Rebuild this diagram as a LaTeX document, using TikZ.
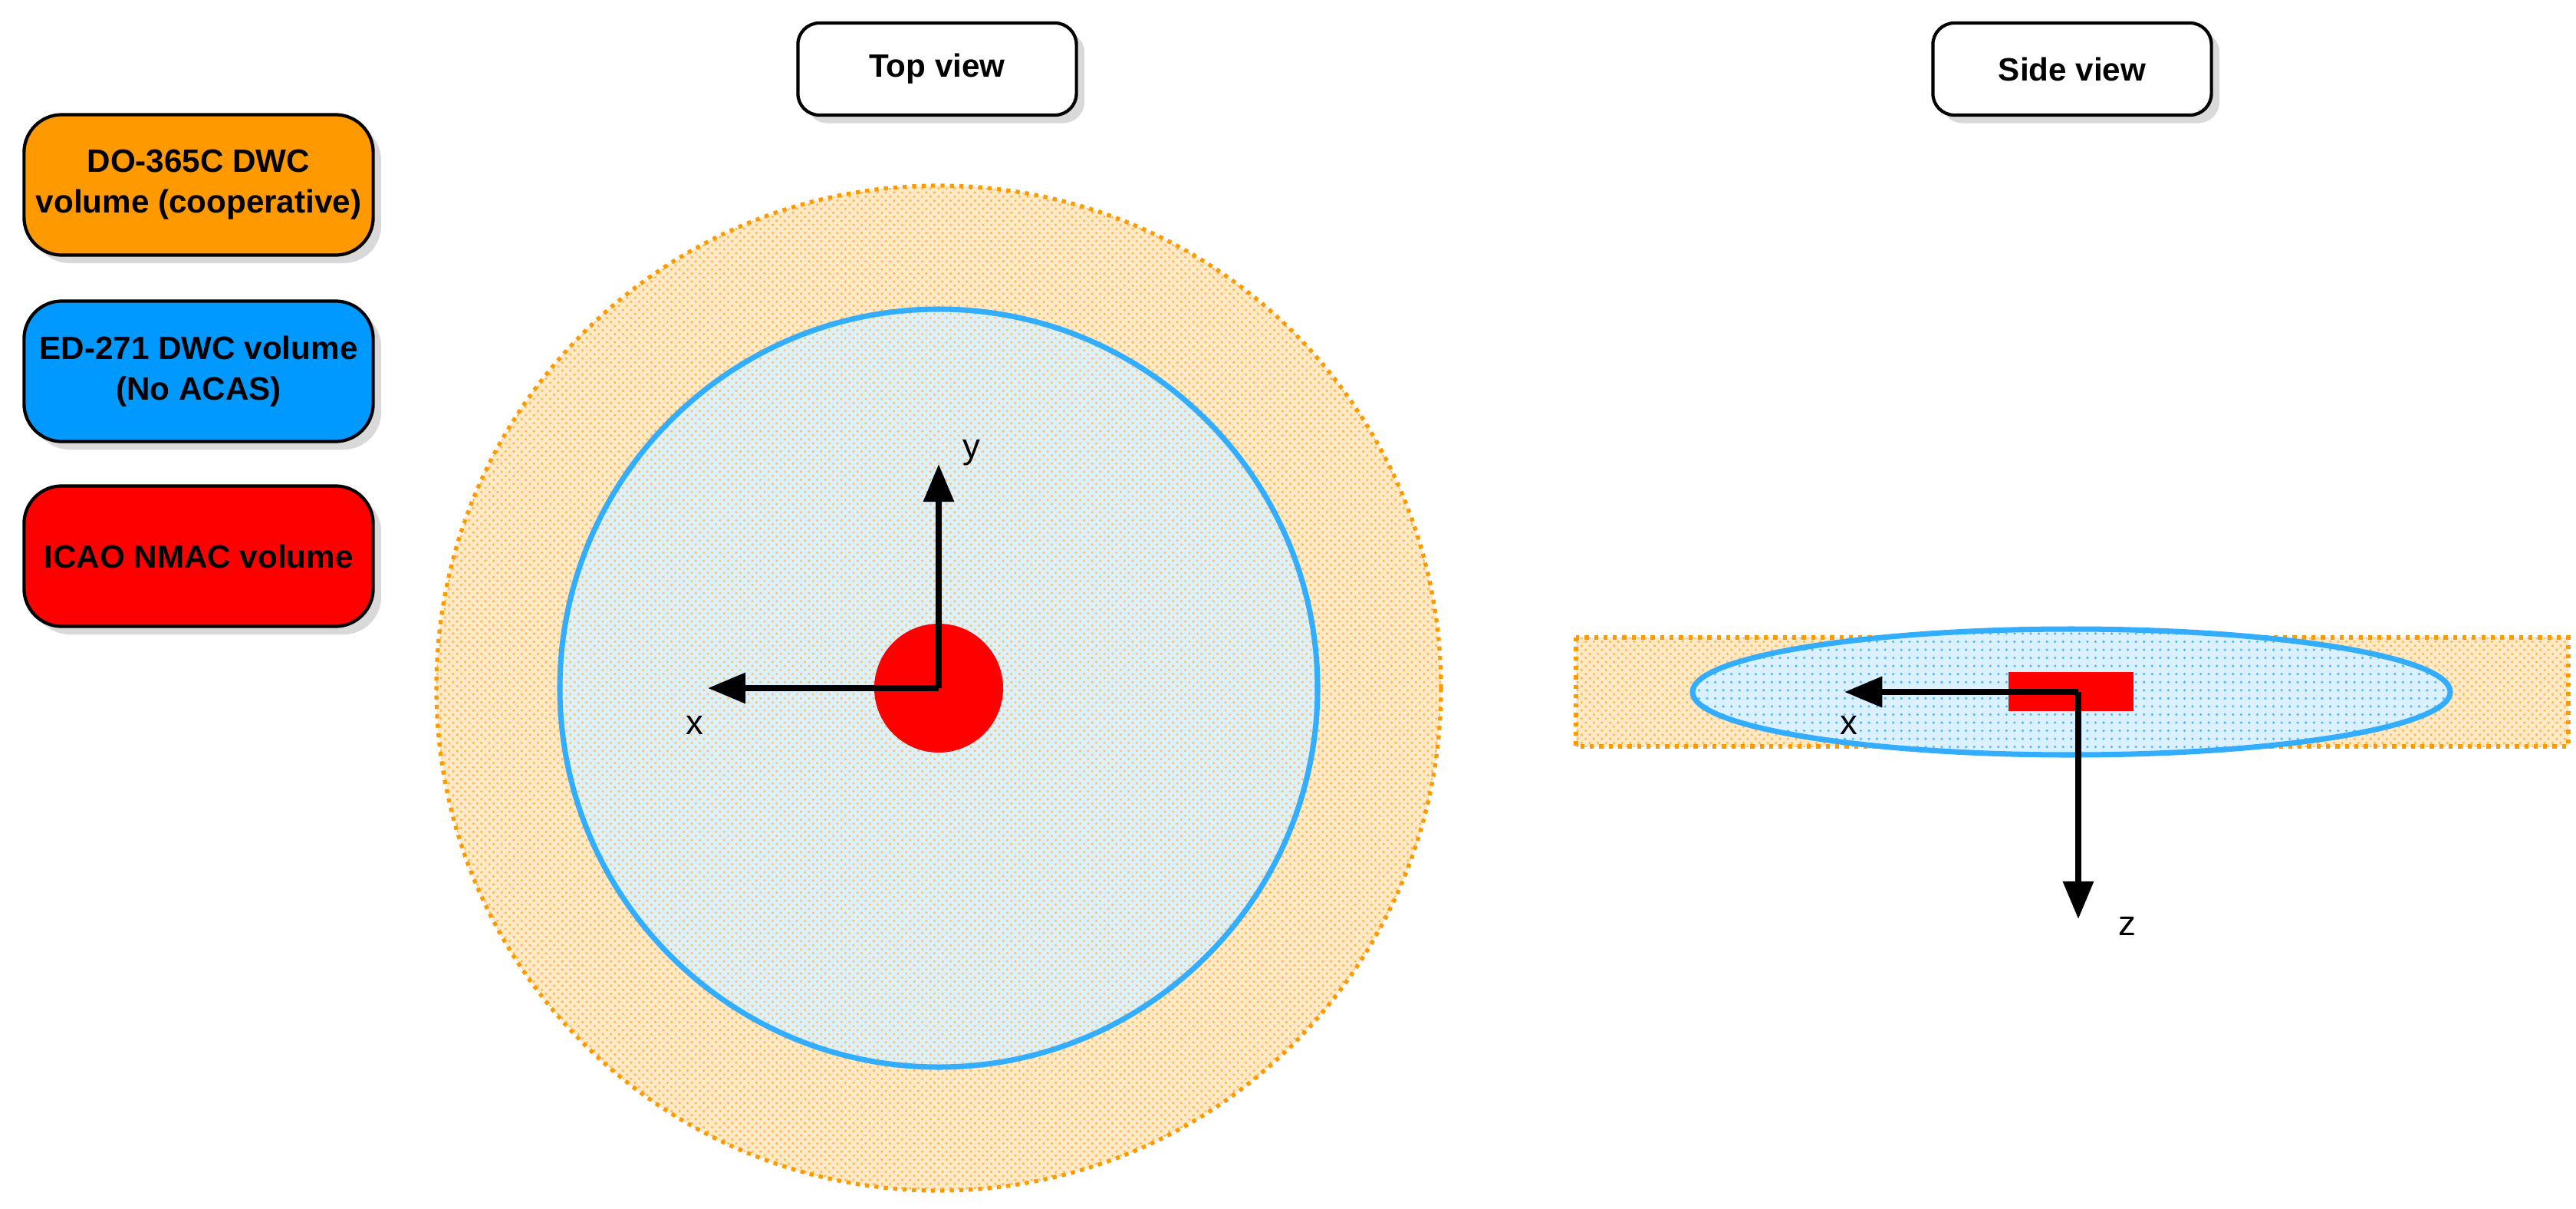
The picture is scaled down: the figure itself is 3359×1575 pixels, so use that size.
\documentclass[tikz,border=0pt]{standalone}
\usepackage{fontspec}
\setmainfont{Liberation Sans}
\usetikzlibrary{shadows,patterns,arrows.meta}
\definecolor{dorange}{HTML}{FF9900}
\definecolor{dblue}{HTML}{0099FF}
\definecolor{dred}{HTML}{FF0000}
\begin{document}
\begin{tikzpicture}[x=0.01cm,y=-0.01cm,
  legbox/.style={draw=black,line width=1.2pt,rounded corners=14pt,minimum width=4.55cm,minimum height=1.83cm,align=center,font=\bfseries\fontsize{12}{15}\selectfont,drop shadow={opacity=0.3,shadow xshift=3pt,shadow yshift=-3pt}},
  viewbox/.style={draw=black,line width=1.2pt,fill=white,rounded corners=8pt,minimum width=3.63cm,minimum height=1.2cm,font=\bfseries\fontsize{12}{15}\selectfont,drop shadow={opacity=0.3,shadow xshift=3pt,shadow yshift=-3pt}},
  axis/.style={line width=2.2pt,-{Triangle[length=14pt,width=11pt]}},
  lab/.style={font=\fontsize{13}{15}\selectfont}]
\useasboundingbox (0,0) rectangle (3359,1575);
\node[legbox,fill=dorange] (l1) at (259,241) {DO-365C DWC\\volume (cooperative)};
\node[legbox,fill=dblue] (l2) at (259,484) {ED-271 DWC volume\\(No ACAS)};
\node[legbox,fill=dred] (l3) at (259,725) {ICAO NMAC volume};
\node[viewbox] (tv) at (1222,90) {Top view};
\node[viewbox] (sv) at (2702,90) {Side view};
% top view
\fill[dorange!22] (1224,897) circle (655);
\fill[pattern=crosshatch dots,pattern color=dorange!70] (1224,897) circle (655);
\draw[dorange,line width=1.5pt,dotted] (1224,897) circle (655);
\fill[dblue!14] (1224,897) circle (494);
\fill[pattern=crosshatch dots,pattern color=dorange!60] (1224,897) circle (494);
\draw[dblue!80,line width=2pt] (1224,897) circle (494);
\fill[dred] (1224,897) circle (84);
\coordinate (o1) at (1224,897);
\coordinate (ty) at (1224,605);
\coordinate (tx) at (923,897);
\draw[axis] (o1) -- (ty);
\draw[axis] (o1) -- (tx);
\node[lab] (ly) at (1267,590) {y};
\node[lab] (lx) at (906,945) {x};
% side view
\fill[dorange!22] (2055,831) rectangle (3349,973);
\fill[pattern=crosshatch dots,pattern color=dorange!70] (2055,831) rectangle (3349,973);
\draw[dorange,line width=1.5pt,dotted] (2055,831) rectangle (3349,973);
\fill[dblue!14] (2701,902) ellipse (494 and 82);
\fill[pattern=dots,pattern color=dblue!70] (2701,902) ellipse (494 and 82);
\draw[dblue!80,line width=2pt] (2701,902) ellipse (494 and 82);
\fill[dred] (2619,876) rectangle (2782,927);
\coordinate (o2) at (2710,902);
\coordinate (sx) at (2405,902);
\coordinate (sz) at (2710,1198);
\draw[axis] (o2) -- (sx);
\draw[axis] (o2) -- (sz);
\node[lab] (lsx) at (2411,945) {x};
\node[lab] (lz) at (2774,1207) {z};
\end{tikzpicture}
\end{document}
